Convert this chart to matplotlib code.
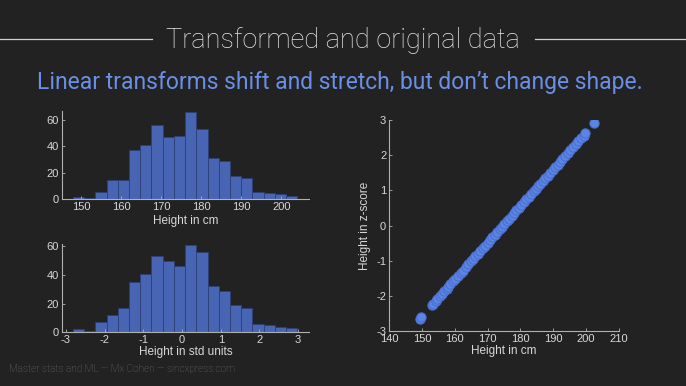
import matplotlib
matplotlib.use("Agg")
import matplotlib.pyplot as plt
import numpy as np

plt.rcParams["axes.unicode_minus"] = False

# ---- data ----
cm_bin_start = 148.0
cm_bin_width = 2.8
cm_counts = [2, 1, 6, 15, 15, 37, 41, 56, 47, 48, 66, 53, 31, 29, 18, 16, 6, 5, 4, 3]

z_bin_start = -2.82
z_bin_width = 0.29
z_counts = [2, 1, 7, 12, 17, 35, 41, 53, 50, 46, 61, 56, 32, 29, 19, 17, 6, 5, 4, 3]

height_cm = [149.3, 149.7, 153.0, 153.4, 154.2, 154.6, 155.5, 156.1, 156.8, 157.5,
             158.0, 158.7, 159.5, 160.2, 161.0, 161.8, 162.4, 163.3, 164.1, 164.9,
             165.6, 166.3, 167.0, 167.8, 168.5, 169.2, 170.0, 170.8, 171.5, 172.2,
             173.0, 173.7, 174.4, 175.1, 175.9, 176.6, 177.3, 178.0, 178.8, 179.5,
             180.3, 181.0, 181.8, 182.5, 183.2, 184.0, 184.7, 185.4, 186.1, 186.9,
             187.6, 188.3, 189.1, 189.8, 190.6, 191.3, 192.1, 192.8, 193.6, 194.4,
             195.2, 196.0, 196.8, 197.6, 198.4, 199.2, 199.8, 202.5]
height_z = [-2.651, -2.610, -2.265, -2.223, -2.140, -2.098, -2.004, -1.942, -1.868, -1.795,
            -1.743, -1.670, -1.587, -1.514, -1.430, -1.347, -1.284, -1.190, -1.106, -1.023,
            -0.950, -0.877, -0.804, -0.720, -0.647, -0.574, -0.491, -0.407, -0.334, -0.261,
            -0.177, -0.104, -0.031, 0.042, 0.125, 0.198, 0.271, 0.344, 0.428, 0.501,
            0.585, 0.658, 0.741, 0.814, 0.887, 0.971, 1.044, 1.117, 1.190, 1.273,
            1.347, 1.420, 1.503, 1.576, 1.660, 1.733, 1.816, 1.889, 1.973, 2.056,
            2.140, 2.223, 2.307, 2.390, 2.474, 2.557, 2.620, 2.902]

cm_ticks = [150, 160, 170, 180, 190, 200]
z_ticks = [-3, -2, -1, 0, 1, 2, 3]
count_ticks = [0, 20, 40, 60]
sc_xticks = [140, 150, 160, 170, 180, 190, 200, 210]
sc_yticks = [-3, -2, -1, 0, 1, 2, 3]

title = "Transformed and original data"
subtitle = "Linear transforms shift and stretch, but don\u2019t change shape."
watermark = "Master stats and ML \u2014 Mx Cohen \u2014 sincxpress.com"

# ---- style ----
BG = "#222222"
BAR = "#4865b4"
BAR_EDGE = "#2c3f78"
DOT = "#5c84e6"
DOT_EDGE = "#4a6fd0"
AX = "#b0b0b0"
TXT = "#d8d8d8"

W, H = 686, 386
fig = plt.figure(figsize=(W / 100, H / 100), dpi=100, facecolor=BG)

def style(ax):
    ax.set_facecolor(BG)
    for s in ("top", "right"):
        ax.spines[s].set_visible(False)
    for s in ("left", "bottom"):
        ax.spines[s].set_color(AX)
        ax.spines[s].set_linewidth(0.8)
    ax.tick_params(colors=AX, labelcolor=TXT, direction="in", length=2.5,
                   width=0.6, labelsize=8, pad=2)
    for lab in ax.get_xticklabels() + ax.get_yticklabels():
        lab.set_fontfamily("Liberation Sans")

def rect(l, t, r, b):
    return [l / W, 1 - b / H, (r - l) / W, (b - t) / H]

# top histogram
ax1 = fig.add_axes(rect(62, 111, 309, 199.5))
edges1 = cm_bin_start + cm_bin_width * np.arange(len(cm_counts))
ax1.bar(edges1, cm_counts, width=cm_bin_width, align="edge", color=BAR,
        edgecolor=BAR_EDGE, linewidth=0.6)
ax1.set_xlim(145.3, 206.9)
ax1.set_ylim(0, 66.5)
ax1.set_xticks(cm_ticks)
ax1.set_yticks(count_ticks)
style(ax1)
ax1.set_xlabel("Height in cm", color=TXT, fontsize=8.5, family="Liberation Sans", labelpad=2)

# bottom histogram
ax2 = fig.add_axes(rect(62, 243.5, 309, 332.3))
edges2 = z_bin_start + z_bin_width * np.arange(len(z_counts))
ax2.bar(edges2, z_counts, width=z_bin_width, align="edge", color=BAR,
        edgecolor=BAR_EDGE, linewidth=0.6)
ax2.set_xlim(-3.1, 3.28)
ax2.set_ylim(0, 62)
ax2.set_xticks(z_ticks)
ax2.set_yticks(count_ticks)
style(ax2)
ax2.set_xlabel("Height in std units", color=TXT, fontsize=8.5, family="Liberation Sans", labelpad=1)

# scatter
ax3 = fig.add_axes(rect(389, 120, 619, 331))
ax3.scatter(height_cm, height_z, s=44, color=DOT, edgecolors=DOT_EDGE,
            linewidths=0.8, zorder=3)
ax3.set_xlim(140, 210)
ax3.set_ylim(-3, 3)
ax3.set_xticks(sc_xticks)
ax3.set_yticks(sc_yticks)
style(ax3)
ax3.set_xlabel("Height in cm", color=TXT, fontsize=8.5, family="Liberation Sans", labelpad=1)
ax3.set_ylabel("Height in z-score", color=TXT, fontsize=8.5, family="Liberation Sans", labelpad=4)

# title & decorations
fig.text(343 / W, 1 - 40 / H, title, ha="center", va="center", color="#e6e6e6",
         fontsize=19.5, family="Roboto", fontweight="light")
fig.add_artist(plt.Line2D([0, 152 / W], [1 - 39 / H] * 2, color="#cfcfcf", lw=0.9))
fig.add_artist(plt.Line2D([535 / W, 1], [1 - 39 / H] * 2, color="#cfcfcf", lw=0.9))
fig.text(340 / W, 1 - 83 / H, subtitle, ha="center", va="center", color="#6b8fe6",
         fontsize=16.5, family="Roboto")
fig.text(9 / W, 1 - 369 / H, watermark, ha="left", va="center", color="#6e6e6e",
         fontsize=7.2, family="Roboto", fontweight="light")

fig.savefig("out.png", dpi=100, facecolor=BG)
